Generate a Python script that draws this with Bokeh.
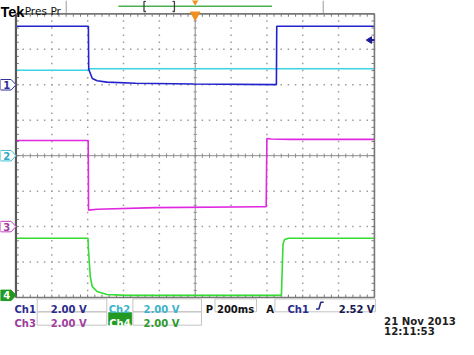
import numpy as np
from bokeh.plotting import figure
from bokeh.models import Range1d
from bokeh.embed import file_html
from bokeh.resources import INLINE
from bokeh.core.properties import value

# ---------------- data ----------------
MS_PER_DIV = 200.0
V_PER_DIV = 2.0

ch1_offset_div = 2.0
ch2_offset_div = 0.0
ch3_offset_div = -2.0
ch4_offset_div = -3.94

ch1_time_ms = [-1000, -596, -594, -574, -547, -493, -332, -8, 453, 455, 1000]
ch1_volts = [3.30, 3.30, 0.88, 0.35, 0.23, 0.15, 0.09, 0.04, 0.01, 3.30, 3.30]

ch2_time_ms = [-1000, -596, -594, 1000]
ch2_volts = [4.82, 4.82, 4.90, 4.90]

ch3_time_ms = [-1000, -597, -595, -547, -224, 369, 396, 400, 423, 531, 1000]
ch3_volts = [4.86, 4.86, 0.93, 0.98, 1.07, 1.12, 1.12, 4.97, 4.94, 4.92, 4.92]

ch4_time_ms = [-1000, -598, -596, -585, -574, -547, -493, -385, 481, 490, 499, 520, 1000]
ch4_volts = [3.22, 3.22, 2.64, 1.02, 0.49, 0.22, 0.05, 0.0, 0.0, 2.9, 3.15, 3.22, 3.22]

trigger_time_ms = 0.0
trigger_level_v = 2.52

ch_labels = ["Ch1", "Ch2", "Ch3", "Ch4"]
ch_tags = ["1", "2", "3", "4"]
scale_labels = ["2.00 V", "2.00 V", "2.00 V", "2.00 V"]
timebase_label = "200ms"
trigger_source_label = "Ch1"
trigger_level_label = "2.52 V"
date_label = "21 Nov 2013"
time_label = "12:11:53"

# ---------------- layout ----------------
W, H = 458, 339
REF_W, REF_H = 474, 355
FS = W / REF_W
GX0, GX1, GY0, GY1 = 16, 387, 14, 311  # graticule edges (reference px)


def X(px):
    return -5 * MS_PER_DIV + (px - GX0) * (10 * MS_PER_DIV) / (GX1 - GX0)


def Y(py):
    return 4 - (py - GY0) * 8 / (GY1 - GY0)


def fs(px):
    return value(f"{px * FS:.1f}px")


p = figure(width=W, height=H, x_range=Range1d(X(0), X(REF_W)), y_range=Range1d(Y(REF_H), Y(0)),
           output_backend="svg", toolbar_location=None, x_axis_type=None, y_axis_type=None,
           min_border=0, outline_line_color=None, background_fill_color="white",
           border_fill_color="white", title=None)

# graticule dots
dx, dy = [], []
ydots = np.arange(-4, 4.001, 0.2)
xdots = np.arange(-5 * MS_PER_DIV, 5 * MS_PER_DIV + 0.1, MS_PER_DIV / 5)
for k in (-4, -3, -2, -1, 1, 2, 3, 4):
    dx += [k * MS_PER_DIV] * len(ydots)
    dy += list(ydots)
for k in (-3, -2, -1, 1, 2, 3):
    dx += list(xdots)
    dy += [k] * len(xdots)
p.scatter(dx, dy, marker="square", size=1.5, fill_color="#9c9c9c", line_color=None)

# center cross with minor ticks
p.segment(x0=[-1000, 0], y0=[0, -4], x1=[1000, 0], y1=[0, 4], line_color="#8c8c8c", line_width=1)
tick_x = [t for t in xdots]
p.segment(x0=tick_x, y0=[-0.06] * len(tick_x), x1=tick_x, y1=[0.06] * len(tick_x),
          line_color="#8c8c8c", line_width=1)
tick_y = [y for y in ydots]
p.segment(x0=[-9] * len(tick_y), y0=tick_y, x1=[9] * len(tick_y), y1=tick_y,
          line_color="#8c8c8c", line_width=1)

# border ticks
bt = 3 * 8 / (GY1 - GY0)
bx = 3 * 2000 / (GX1 - GX0)
p.segment(x0=tick_x, y0=[4] * len(tick_x), x1=tick_x, y1=[4 - bt] * len(tick_x), line_color="#7a7a7a")
p.segment(x0=tick_x, y0=[-4] * len(tick_x), x1=tick_x, y1=[-4 + bt] * len(tick_x), line_color="#7a7a7a")
p.segment(x0=[-1000] * len(tick_y), y0=tick_y, x1=[-1000 + bx] * len(tick_y), y1=tick_y, line_color="#7a7a7a")
p.segment(x0=[1000] * len(tick_y), y0=tick_y, x1=[1000 - bx] * len(tick_y), y1=tick_y, line_color="#7a7a7a")

# traces
def to_div(volts, off):
    return [off + v / V_PER_DIV for v in volts]


p.line(ch2_time_ms, to_div(ch2_volts, ch2_offset_div), line_color="#3cd4e6", line_width=1.6)
p.line(ch1_time_ms, to_div(ch1_volts, ch1_offset_div), line_color="#2222cc", line_width=1.6)
p.line(ch3_time_ms, to_div(ch3_volts, ch3_offset_div), line_color="#e028e0", line_width=1.6)
p.line(ch4_time_ms, to_div(ch4_volts, ch4_offset_div), line_color="#33dd33", line_width=1.6)

# border
p.segment(x0=[-1000], y0=[-4], x1=[-1000], y1=[4], line_color="#5a5a5a", line_width=2.2)
p.segment(x0=[-1000, -1000, 1000], y0=[4, -4, -4], x1=[1000, 1000, 1000], y1=[4, -4, 4],
          line_color="#777777", line_width=1.6)

# trigger markers
p.scatter([trigger_time_ms], [Y(15)], marker="inverted_triangle", size=10 * FS,
          fill_color="#f0901e", line_color="#f0901e")
p.scatter([trigger_time_ms], [Y(0.5)], marker="inverted_triangle", size=7 * FS,
          fill_color="#f0901e", line_color="#f0901e")
trig_y = ch1_offset_div + trigger_level_v / V_PER_DIV
hh = 3.5 * 8 / (GY1 - GY0)
p.patch([X(378.5), X(384), X(384)], [trig_y, trig_y + hh, trig_y - hh], fill_color="#1a1a9a", line_color="#1a1a9a")
p.segment(x0=[X(383)], y0=[trig_y], x1=[X(387)], y1=[trig_y], line_color="#1a1a9a", line_width=2)

# channel tags
tag_offsets = [ch1_offset_div, ch2_offset_div, ch3_offset_div, ch4_offset_div]
tag_line = ["#30309a", "#40c0d0", "#c040c0", "#229a22"]
tag_fill = ["white", "white", "white", "#229a22"]
tag_text = ["#30309a", "#30a8c0", "#a040a0", "white"]
th = 5.5 * 8 / (GY1 - GY0)
for off, lc, fc, tc, lab in zip(tag_offsets, tag_line, tag_fill, tag_text, ch_tags):
    p.patch([X(0), X(11), X(16), X(11), X(0)], [off - th, off - th, off, off + th, off + th],
            fill_color=fc, line_color=lc, line_width=1)
    p.text([X(6.5)], [off], text=[lab], text_align="center", text_baseline="middle",
           text_font=value("DejaVu Sans"), text_font_style="bold", text_font_size=fs(10.5), text_color=tc)

# header
p.text([X(0)], [Y(12.5)], text=["Tek"], text_font=value("Liberation Sans"), text_font_style="bold",
       text_font_size=fs(15), text_color="black", text_baseline="alphabetic")
p.text([X(25)], [Y(11.5)], text=["Pres Pr"], text_font=value("DejaVu Sans"),
       text_font_size=fs(11), text_color="#111111", text_baseline="alphabetic")
p.segment(x0=[X(68), X(334)], y0=[Y(0), Y(0)], x1=[X(68), X(334)], y1=[Y(13), Y(13)],
          line_color="#999999", line_width=1)
p.segment(x0=[X(122)], y0=[Y(6)], x1=[X(281)], y1=[Y(6)], line_color="#4caf50", line_width=1.3)
p.multi_line([[X(150.5), X(148.5), X(148.5), X(150.5)], [X(178), X(180), X(180), X(178)]],
             [[Y(1), Y(1), Y(11.5), Y(11.5)], [Y(1), Y(1), Y(11.5), Y(11.5)]],
             line_color="#404040", line_width=1.3)

# readout boxes
boxes = [(38, 110, 312.5, 326), (137, 208, 312.5, 326), (222, 265, 312.5, 326),
         (284, 388, 312.5, 326), (38, 110, 326, 340), (137, 208, 326, 340)]
p.quad(left=[X(b[0]) for b in boxes], right=[X(b[1]) for b in boxes],
       top=[Y(b[2]) for b in boxes], bottom=[Y(b[3]) for b in boxes],
       fill_color=None, line_color="#c4c4c4", line_width=1)
p.quad(left=[X(111.5)], right=[X(136)], top=[Y(326.5)], bottom=[Y(340)],
       fill_color="#229a22", line_color=None)

R1, R2 = 323.3, 338.0
txt = dict(text_font=value("DejaVu Sans"), text_font_style="bold", text_font_size=fs(10.4),
           text_baseline="alphabetic")
p.text([X(14.5)], [Y(R1)], text=[ch_labels[0]], text_color="#2b2b8c", **txt)
p.text([X(52)], [Y(R1)], text=[scale_labels[0]], text_color="#2b2b8c", **txt)
p.text([X(112)], [Y(R1)], text=[ch_labels[1]], text_color="#3cb4c8", **txt)
p.text([X(148)], [Y(R1)], text=[scale_labels[1]], text_color="#3cb4c8", **txt)
p.text([X(212.5)], [Y(R1)], text=["P"], text_color="#111111", **txt)
p.text([X(224)], [Y(R1)], text=[timebase_label], text_color="#111111", **txt)
p.text([X(275)], [Y(R1)], text=["A"], text_color="#111111", **txt)
p.text([X(297)], [Y(R1)], text=[trigger_source_label], text_color="#2b2b8c", **txt)
p.text([X(350)], [Y(R1)], text=[trigger_level_label], text_color="#1a1a50", **txt)
p.line([X(326.5), X(329.5), X(331.5), X(334.5)], [Y(323), Y(323), Y(316), Y(316)],
       line_color="#2b2b8c", line_width=1.6)
p.text([X(14.5)], [Y(R2)], text=[ch_labels[2]], text_color="#9b3c9b", **txt)
p.text([X(52)], [Y(R2)], text=[scale_labels[2]], text_color="#a040a0", **txt)
p.text([X(112.5)], [Y(R2)], text=[ch_labels[3]], text_color="white", **txt)
p.text([X(148)], [Y(R2)], text=[scale_labels[3]], text_color="#2c9a2c", **txt)

# date / time
dtxt = dict(text_font=value("DejaVu Sans"), text_font_style="bold", text_font_size=fs(10.6),
            text_baseline="alphabetic", text_color="#1e1e1e")
p.text([X(397)], [Y(336)], text=[date_label], **dtxt)
p.text([X(397)], [Y(347)], text=[time_label], **dtxt)

open("out.html", "w").write(file_html(p, INLINE))
